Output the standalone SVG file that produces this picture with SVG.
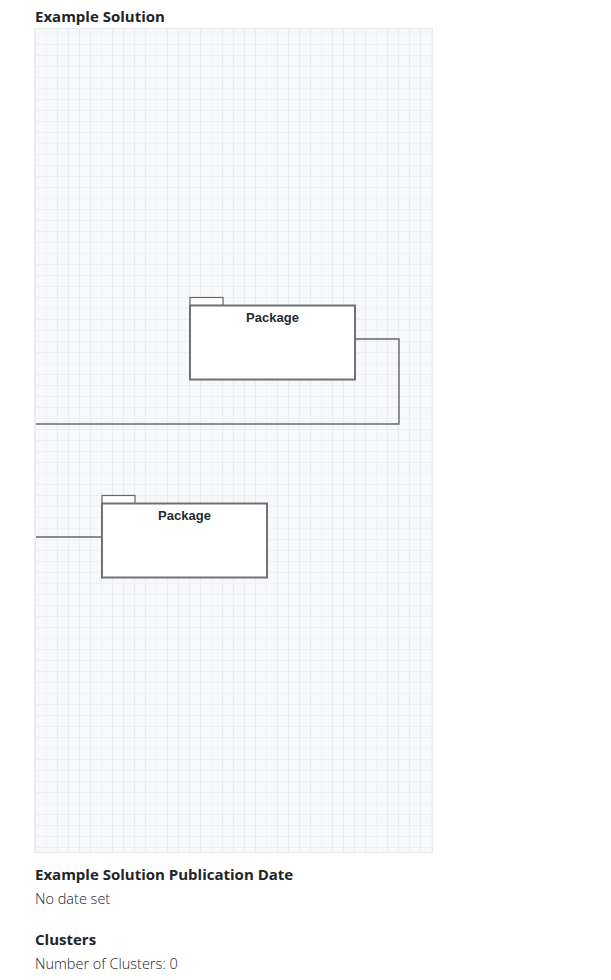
<svg xmlns="http://www.w3.org/2000/svg" width="611" height="980" viewBox="0 0 611 980">
<style>
.h{font:700 15px "Open Sans","Noto Sans",sans-serif;fill:#212529}
.p{font:300 14.5px "Open Sans","Noto Sans",sans-serif;fill:#212529}
.n{font:700 13px "Liberation Sans",Arial,sans-serif;fill:#212b36;text-anchor:middle}
.b{fill:#fff;stroke:#707174;stroke-width:2}
.t{fill:#fff;stroke:#66676a;stroke-width:1.2}
.c{fill:none;stroke:#66676a;stroke-width:1.4}
</style>
<defs>
<pattern id="g" x="46" y="33" width="55" height="55" patternUnits="userSpaceOnUse">
<path d="M11.500 0V55M22.500 0V55M33.500 0V55M44.500 0V55" stroke="#e9ebee" fill="none"/>
<path d="M0 11.500H55M0 22.500H55M0 33.500H55M0 44.500H55" stroke="#eceef1" fill="none"/>
<path d="M0.500 0V55M0 0.500H55" stroke="#f0f1f4" fill="none"/>
</pattern>
</defs>
<rect width="611" height="980" fill="#fff"/>
<text class="h" x="35" y="22">Example Solution</text>
<g id="canvas">
<rect x="35" y="28.500" width="397.500" height="824" fill="#f7f8fa"/>
<rect x="35" y="28.500" width="397.500" height="824" fill="url(#g)"/>
<rect x="34.500" y="28.500" width="398" height="824" fill="none" stroke="#e8eaed"/>
</g>
<g id="connectors">
<path class="c" d="M355 339H399V424H36"/>
<path class="c" d="M36 537H102"/>
</g>
<g id="package-1">
<rect class="t" x="190" y="297.500" width="33" height="8"/>
<rect class="b" x="190" y="305.500" width="165" height="74"/>
<text class="n" x="272.500" y="322">Package</text>
</g>
<g id="package-2">
<rect class="t" x="102" y="495.500" width="33" height="8"/>
<rect class="b" x="102" y="503.500" width="165" height="74"/>
<text class="n" x="184.500" y="520">Package</text>
</g>
<text class="h" x="35" y="880">Example Solution Publication Date</text>
<text class="p" x="35" y="904">No date set</text>
<text class="h" x="35" y="945">Clusters</text>
<text class="p" x="35" y="969">Number of Clusters: 0</text>
</svg>
